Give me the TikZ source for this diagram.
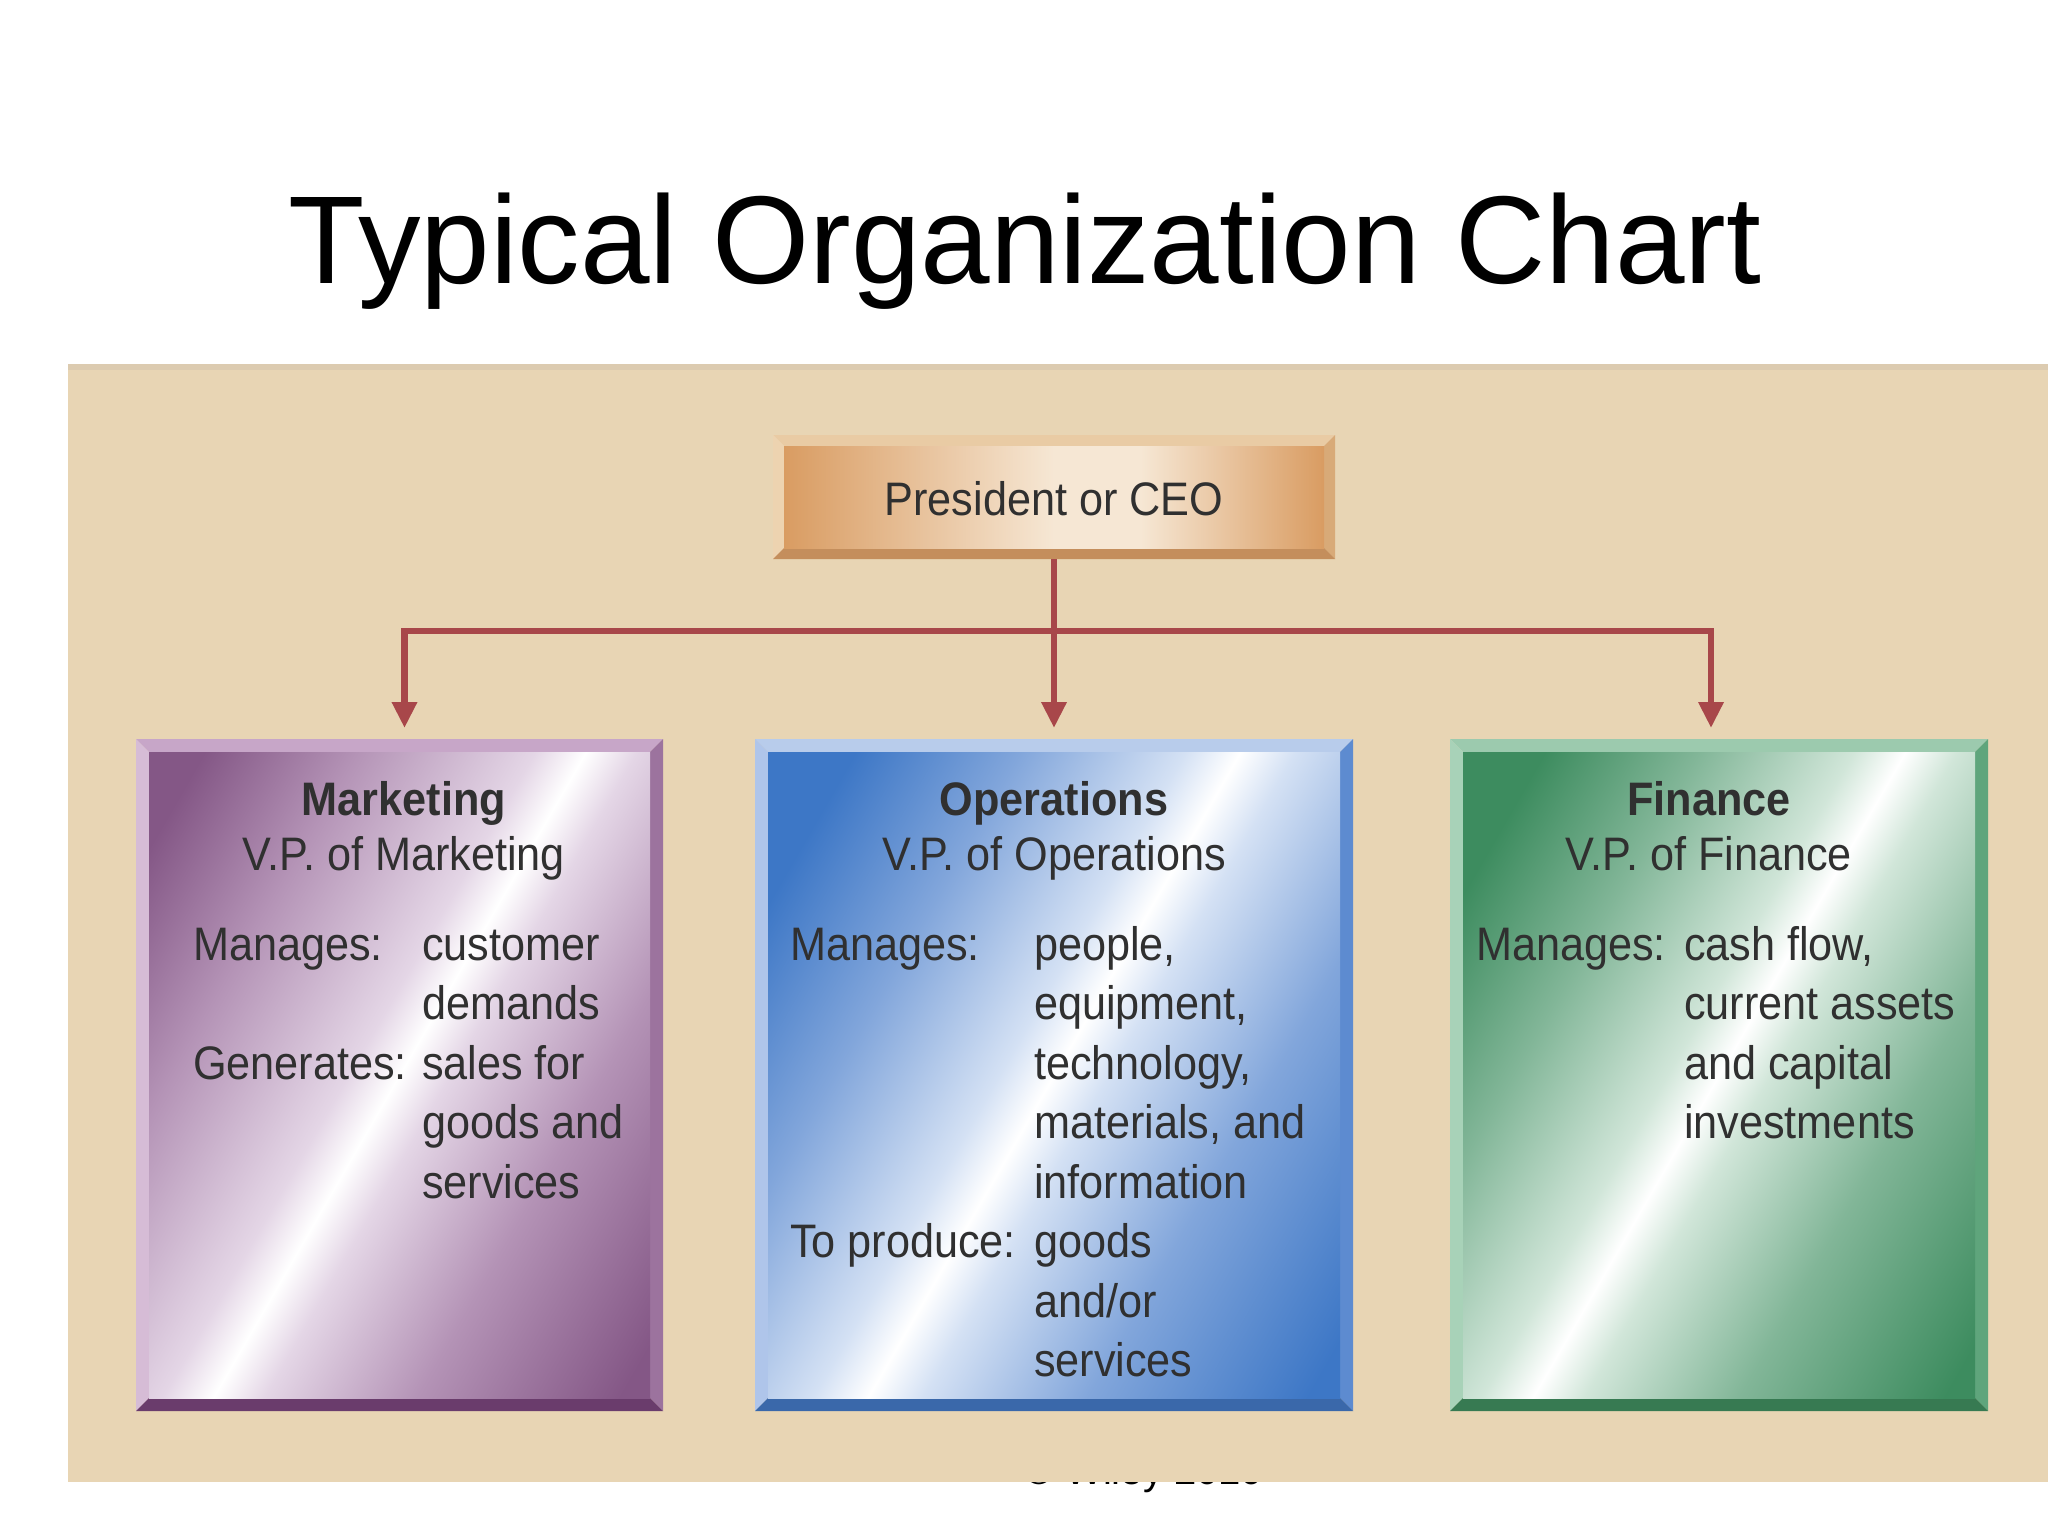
\documentclass[tikz,border=0pt]{standalone}
\usepackage{fontspec}
\setmainfont{Liberation Sans}
\newfontfamily\bxfont[FakeStretch=0.92]{Liberation Sans}
\usetikzlibrary{arrows.meta,fit}
\definecolor{panel}{HTML}{E8D5B4}
\definecolor{panelshadow}{HTML}{DCCBB0}
\definecolor{txtcol}{HTML}{303030}
\definecolor{conncol}{HTML}{A8474A}
% CEO
\definecolor{ceodark}{HTML}{D99C62}
\definecolor{ceolite}{HTML}{F6E7D4}
\definecolor{ceotop}{HTML}{E9CBA4}
\definecolor{ceoleft}{HTML}{EDD3B0}
\definecolor{ceoright}{HTML}{D8AA78}
\definecolor{ceobot}{HTML}{C48E5C}
% Marketing
\definecolor{mktdark}{HTML}{845786}
\definecolor{mktmid}{HTML}{B493B6}
\definecolor{mktlite}{HTML}{E4D6E6}
\definecolor{mkttop}{HTML}{C7A6C8}
\definecolor{mktleft}{HTML}{D6BCD6}
\definecolor{mktright}{HTML}{9C739E}
\definecolor{mktbot}{HTML}{6A3C6C}
% Operations
\definecolor{opsdark}{HTML}{3D77C6}
\definecolor{opsmid}{HTML}{82A6DB}
\definecolor{opslite}{HTML}{D4E1F4}
\definecolor{opstop}{HTML}{B8CCEB}
\definecolor{opsleft}{HTML}{AFC5EA}
\definecolor{opsright}{HTML}{5D8BD0}
\definecolor{opsbot}{HTML}{3A68AA}
% Finance
\definecolor{findark}{HTML}{3D8C5F}
\definecolor{finmid}{HTML}{82B698}
\definecolor{finlite}{HTML}{D1E6D9}
\definecolor{fintop}{HTML}{9CCAAE}
\definecolor{finleft}{HTML}{A8D2B8}
\definecolor{finright}{HTML}{5FA57C}
\definecolor{finbot}{HTML}{377A52}

\pgfdeclarehorizontalshading{ceoshade}{100bp}{color(0bp)=(ceodark); color(25bp)=(ceodark); color(50bp)=(ceolite); color(58bp)=(ceolite); color(75bp)=(ceodark); color(100bp)=(ceodark)}
\pgfdeclarehorizontalshading{mktshade}{100bp}{color(0bp)=(mktdark); color(20bp)=(mktdark); color(32bp)=(mktmid); color(46bp)=(mktlite); color(50bp)=(white); color(54bp)=(mktlite); color(66bp)=(mktmid); color(82bp)=(mktdark); color(100bp)=(mktdark)}
\pgfdeclarehorizontalshading{opsshade}{100bp}{color(0bp)=(opsdark); color(22bp)=(opsdark); color(34bp)=(opsmid); color(46bp)=(opslite); color(50bp)=(white); color(54bp)=(opslite); color(66bp)=(opsmid); color(82bp)=(opsdark); color(100bp)=(opsdark)}
\pgfdeclarehorizontalshading{finshade}{100bp}{color(0bp)=(findark); color(22bp)=(findark); color(34bp)=(finmid); color(46bp)=(finlite); color(50bp)=(white); color(54bp)=(finlite); color(66bp)=(finmid); color(82bp)=(findark); color(100bp)=(findark)}

\tikzset{
  box/.style={inner sep=0pt, outer sep=0pt},
  txt/.style={inner sep=0pt, outer sep=0pt, text=txtcol, anchor=base west,
    font=\bxfont\fontsize{23.5pt}{28pt}\selectfont},
  hdr/.style={txt, anchor=base, font=\bxfont\bfseries\fontsize{23.5pt}{28pt}\selectfont},
  sub/.style={txt, anchor=base},
  conn/.style={draw=conncol, line width=3.2pt, line join=miter},
  arr/.style={conn, -{Triangle[width=12pt,length=13pt]}},
}

% #1 node, #2 top, #3 left, #4 right, #5 bottom, #6 bevel width, #7 shading, #8 angle
\newcommand\bevelbox[8]{%
  \fill[#2] (#1.north west) -- (#1.north east) -- ([shift={(-#6,#6)}]#1.north east) -- ([shift={(#6,#6)}]#1.north west) -- cycle;
  \fill[#3] (#1.north west) -- ([shift={(#6,#6)}]#1.north west) -- ([shift={(#6,-#6)}]#1.south west) -- (#1.south west) -- cycle;
  \fill[#4] (#1.north east) -- ([shift={(-#6,#6)}]#1.north east) -- ([shift={(-#6,-#6)}]#1.south east) -- (#1.south east) -- cycle;
  \fill[#5] (#1.south west) -- ([shift={(#6,-#6)}]#1.south west) -- ([shift={(-#6,-#6)}]#1.south east) -- (#1.south east) -- cycle;
  \shade[shading=#7, shading angle=#8] ([shift={(#6,#6)}]#1.north west) rectangle ([shift={(-#6,-#6)}]#1.south east);
}

\begin{document}
\begin{tikzpicture}[x=0.5pt,y=-0.5pt]
\useasboundingbox (0,0) rectangle (2048,1536);
\fill[white] (0,0) rectangle (2048,1536);

% copyright line, partly hidden behind the panel
\node[font=\fontsize{20pt}{24pt}\selectfont, anchor=base, inner sep=0pt] (copy) at (1144,1484) {© Wiley 2010};

% panel
\fill[panel] (68,364) rectangle (2048,1482);
\fill[panelshadow] (68,364) rectangle (2048,370);

% title
\node[font=\fontsize{62.5pt}{75pt}\selectfont, anchor=base, inner sep=0pt] (title) at (1025,283) {Typical Organization Chart};

% boxes
\node[box, fit={(773,435) (1335,559)}] (ceo) {};
\node[box, fit={(136,739) (663,1411)}] (mkt) {};
\node[box, fit={(755,739) (1353,1411)}] (ops) {};
\node[box, fit={(1450,739) (1988,1411)}] (fin) {};

\bevelbox{ceo}{ceotop}{ceoleft}{ceoright}{ceobot}{11}{ceoshade}{0}
\bevelbox{mkt}{mkttop}{mktleft}{mktright}{mktbot}{13}{mktshade}{-30}
\bevelbox{ops}{opstop}{opsleft}{opsright}{opsbot}{13}{opsshade}{-30}
\bevelbox{fin}{fintop}{finleft}{finright}{finbot}{13}{finshade}{-30}

% connectors
\coordinate (j) at ([shift={(0,72)}]ceo.south);
\draw[conn] (ceo.south) -- (j);
\draw[arr] (j) -- ([shift={(0,-11)}]ops.north);
\draw[arr] (j) -| ([shift={(5,-11)}]mkt.north);
\draw[arr] (j) -| ([shift={(-8,-11)}]fin.north);

% CEO text
\node[sub] (ceot) at (1054,515) {President or CEO};

% Marketing
\node[hdr] (mh) at (404,815) {Marketing};
\node[sub] (mv) at (404,870) {V.P. of Marketing};
\node[txt] (m1) at (193,960) {Manages:};
\node[txt] (m2) at (422,960) {customer};
\node[txt] (m3) at (422,1019.5) {demands};
\node[txt] (m4) at (193,1079) {Generates:};
\node[txt] (m5) at (422,1079) {sales for};
\node[txt] (m6) at (422,1138.5) {goods and};
\node[txt] (m7) at (422,1198) {services};

% Operations
\node[hdr] (oh) at (1054,815) {Operations};
\node[sub] (ov) at (1054,870) {V.P. of Operations};
\node[txt] (o1) at (790,960) {Manages:};
\node[txt] (o2) at (1034,960) {people,};
\node[txt] (o3) at (1034,1019.5) {equipment,};
\node[txt] (o4) at (1034,1079) {technology,};
\node[txt] (o5) at (1034,1138.5) {materials, and};
\node[txt] (o6) at (1034,1198) {information};
\node[txt] (o7) at (790,1257.5) {To produce:};
\node[txt] (o8) at (1034,1257.5) {goods};
\node[txt] (o9) at (1034,1317) {and/or};
\node[txt] (o10) at (1034,1376.5) {services};

% Finance
\node[hdr] (fh) at (1709,815) {Finance};
\node[sub] (fv) at (1709,870) {V.P. of Finance};
\node[txt] (f1) at (1476,960) {Manages:};
\node[txt] (f2) at (1684,960) {cash flow,};
\node[txt] (f3) at (1684,1019.5) {current assets};
\node[txt] (f4) at (1684,1079) {and capital};
\node[txt] (f5) at (1684,1138.5) {investments};
\end{tikzpicture}
\end{document}
